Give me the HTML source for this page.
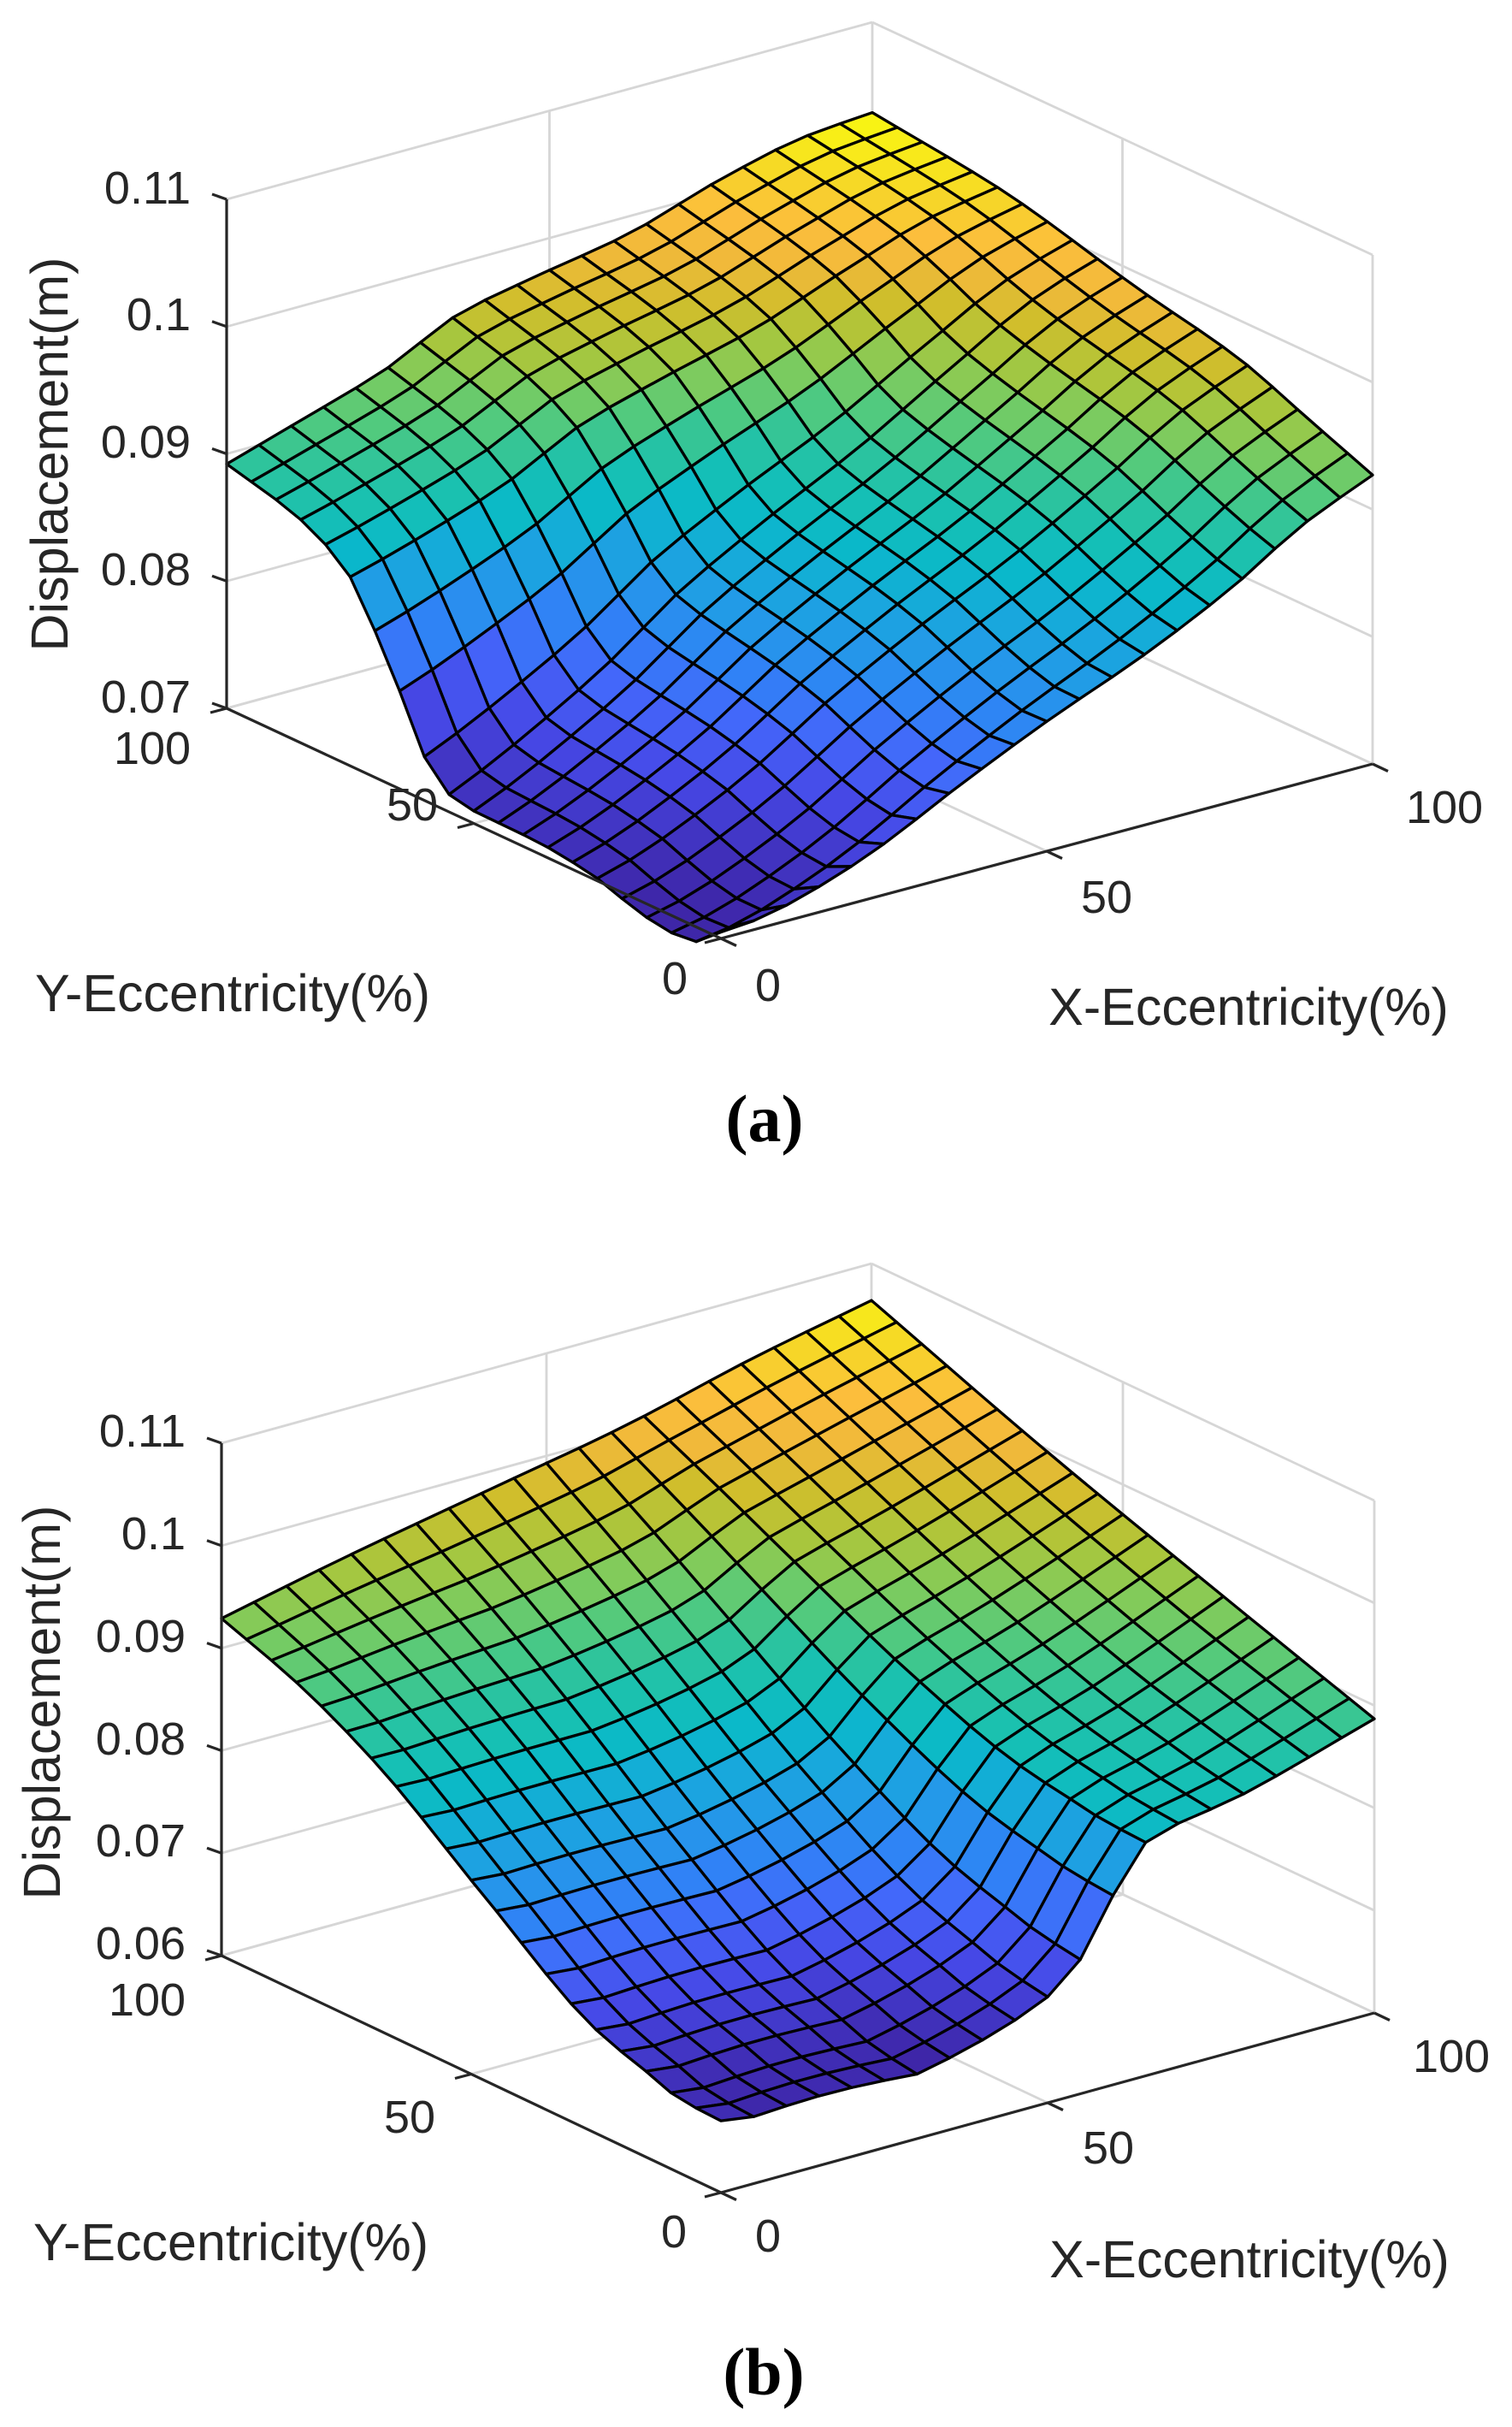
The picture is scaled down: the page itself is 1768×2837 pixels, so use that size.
<!DOCTYPE html>
<html>
<head>
<meta charset="utf-8">
<style>
html,body{margin:0;padding:0;background:#fff;}
svg{display:block;}
.t{font-family:"Liberation Sans",Arial,sans-serif;fill:#262626;}
.tk{font-size:54px;}
.lb{font-size:61px;}
.cap{font-family:"Liberation Serif","Times New Roman",serif;font-size:78px;font-weight:bold;fill:#000;}
</style>
</head>
<body>
<svg id="s" width="1768" height="2837" viewBox="0 0 1768 2837" xmlns="http://www.w3.org/2000/svg">
<rect x="0" y="0" width="1768" height="2837" fill="#fff"/>
<g id="g1"></g>
<g id="g2"></g>

<!-- Chart (a) labels -->
<text class="t tk" x="223" y="238" text-anchor="end">0.11</text>
<text class="t tk" x="223" y="386" text-anchor="end">0.1</text>
<text class="t tk" x="223" y="535" text-anchor="end">0.09</text>
<text class="t tk" x="223" y="684" text-anchor="end">0.08</text>
<text class="t tk" x="223" y="833" text-anchor="end">0.07</text>
<text class="t tk" x="178" y="893" text-anchor="middle">100</text>
<text class="t tk" x="482" y="959" text-anchor="middle">50</text>
<text class="t tk" x="789" y="1162" text-anchor="middle">0</text>
<text class="t tk" x="898" y="1170" text-anchor="middle">0</text>
<text class="t tk" x="1294" y="1067" text-anchor="middle">50</text>
<text class="t tk" x="1689" y="962" text-anchor="middle">100</text>
<text class="t lb" x="272" y="1182" text-anchor="middle">Y-Eccentricity(%)</text>
<text class="t lb" x="1460" y="1198" text-anchor="middle">X-Eccentricity(%)</text>
<text class="t lb" transform="translate(79,531) rotate(-90)" text-anchor="middle">Displacement(m)</text>
<text class="cap" x="894" y="1334" text-anchor="middle">(a)</text>

<!-- Chart (b) labels -->
<text class="t tk" x="217" y="1691" text-anchor="end">0.11</text>
<text class="t tk" x="217" y="1811" text-anchor="end">0.1</text>
<text class="t tk" x="217" y="1931" text-anchor="end">0.09</text>
<text class="t tk" x="217" y="2051" text-anchor="end">0.08</text>
<text class="t tk" x="217" y="2170" text-anchor="end">0.07</text>
<text class="t tk" x="217" y="2290" text-anchor="end">0.06</text>
<text class="t tk" x="172" y="2356" text-anchor="middle">100</text>
<text class="t tk" x="479" y="2493" text-anchor="middle">50</text>
<text class="t tk" x="788" y="2627" text-anchor="middle">0</text>
<text class="t tk" x="898" y="2632" text-anchor="middle">0</text>
<text class="t tk" x="1296" y="2529" text-anchor="middle">50</text>
<text class="t tk" x="1697" y="2422" text-anchor="middle">100</text>
<text class="t lb" x="270" y="2642" text-anchor="middle">Y-Eccentricity(%)</text>
<text class="t lb" x="1461" y="2662" text-anchor="middle">X-Eccentricity(%)</text>
<text class="t lb" transform="translate(70,1990) rotate(-90)" text-anchor="middle">Displacement(m)</text>
<text class="cap" x="893" y="2799" text-anchor="middle">(b)</text>
</svg>

<script>
(function(){
var NS='http://www.w3.org/2000/svg';
function el(parent,tag,attrs){var e=document.createElementNS(NS,tag);for(var k in attrs)e.setAttribute(k,attrs[k]);parent.appendChild(e);return e;}

var PAR=[[0,62,38,168],[0.08,70,72,230],[0.14,68,102,250],[0.2,48,130,246],[0.26,36,152,233],[0.32,24,168,220],[0.38,10,184,202],[0.44,22,192,180],[0.5,46,196,156],[0.56,84,202,124],[0.62,128,203,92],[0.68,170,198,60],[0.74,208,190,44],[0.8,240,185,58],[0.86,252,190,60],[0.92,246,214,40],[1,249,251,14]];
function col(t,gam){
  t=Math.max(0,Math.min(1,t));
  t=Math.pow(t,gam);
  for(var i=0;i<PAR.length-1;i++){
    var a=PAR[i],b=PAR[i+1];
    if(t<=b[0]){
      var f=(t-a[0])/(b[0]-a[0]);
      return 'rgb('+Math.round(a[1]+f*(b[1]-a[1]))+','+Math.round(a[2]+f*(b[2]-a[2]))+','+Math.round(a[3]+f*(b[3]-a[3]))+')';
    }
  }
  return 'rgb(249,251,14)';
}

function pchip(pts){
  var xs=pts.map(function(p){return p[0];}), ys=pts.map(function(p){return p[1];});
  var n=xs.length,h=[],d=[],m=[],i;
  for(i=0;i<n-1;i++){h[i]=xs[i+1]-xs[i];d[i]=(ys[i+1]-ys[i])/h[i];}
  m[0]=d[0];m[n-1]=d[n-2];
  for(i=1;i<n-1;i++){
    if(d[i-1]*d[i]<=0)m[i]=0;
    else{var w1=2*h[i]+h[i-1],w2=h[i]+2*h[i-1];m[i]=(w1+w2)/(w1/d[i-1]+w2/d[i]);}
  }
  return function(x){
    if(x<=xs[0])return ys[0];
    if(x>=xs[n-1])return ys[n-1];
    var k=0;while(k<n-2&&x>xs[k+1])k++;
    var t=(x-xs[k])/h[k],t2=t*t,t3=t2*t;
    return (2*t3-3*t2+1)*ys[k]+(t3-2*t2+t)*h[k]*m[k]+(-2*t3+3*t2)*ys[k+1]+(t3-t2)*h[k]*m[k+1];
  };
}

var charts=[
 {g:'g1',F:[843,1097],R:[1605,893],L:[265,828],B:[1020,621],zmin:0.07,zmax:0.11,kz:14875,
  zt:[0.07,0.08,0.09,0.10,0.11],psi:1.25,gam:1.3,dip:0,
  front:[[0,0.0705],[5,0.0707],[15,0.0720],[25,0.0740],[35,0.0766],[50,0.0802],[65,0.0834],[79,0.0870],[89,0.0902],[100,0.0927]],
  back:[[0,0.0892],[10,0.0908],[25,0.0933],[36,0.0960],[47,0.0972],[62,0.0986],[77,0.1010],[90,0.1025],[100,0.1029]],
  left:[[0,0.0705],[3,0.0692],[8,0.0686],[16,0.0690],[25,0.0702],[38,0.0709],[52,0.0710],[58,0.0722],[63,0.0761],[68,0.0800],[75.6,0.0851],[85.4,0.0876],[100,0.0892]],
  right:[[0,0.0927],[12.5,0.0947],[27,0.0970],[46,0.0987],[75,0.1016],[100,0.1029]]},
 {g:'g2',F:[843,2563],R:[1607,2353],L:[259,2286],B:[1019,2076],zmin:0.06,zmax:0.11,kz:11980,
  zt:[0.06,0.07,0.08,0.09,0.10,0.11],psi:1,gam:1.05,dip:0.0025,
  front:[[0,0.0670],[6,0.0665],[12.5,0.0668],[22,0.0667],[30,0.0663],[35,0.0670],[44,0.0687],[51,0.0707],[55,0.0731],[59.5,0.0779],[62,0.0807],[65.4,0.0829],[79.5,0.0848],[100,0.0887]],
  back:[[0,0.0929],[18,0.0954],[40,0.0981],[62,0.1008],[82,0.1040],[100,0.1064]],
  left:[[0,0.0670],[8,0.0672],[14,0.0682],[24.5,0.0700],[47.5,0.0780],[69,0.0859],[84.4,0.0900],[100,0.0929]],
  right:[[0,0.0887],[27,0.0932],[65.5,0.0998],[100,0.1064]]}
];

charts.forEach(function(c){
  var g=document.getElementById(c.g);
  function P(x,y,z){
    var a=(1-x)*(1-y),b=x*(1-y),cc=(1-x)*y,d=x*y;
    var sx=a*c.F[0]+b*c.R[0]+cc*c.L[0]+d*c.B[0];
    var sy=a*c.F[1]+b*c.R[1]+cc*c.L[1]+d*c.B[1]-(z-c.zmin)*c.kz;
    return [sx,sy];
  }
  function line(p,q,stroke,w){
    el(g,'line',{x1:p[0].toFixed(1),y1:p[1].toFixed(1),x2:q[0].toFixed(1),y2:q[1].toFixed(1),stroke:stroke,'stroke-width':w,'stroke-linecap':'butt'});
  }
  // grid lines (back walls + floor)
  var GC='#d6d6d6',GW=2.8;
  c.zt.forEach(function(z){line(P(0,1,z),P(1,1,z),GC,GW);line(P(1,1,z),P(1,0,z),GC,GW);});
  [0.5,1].forEach(function(x){line(P(x,1,c.zmin),P(x,1,c.zmax),GC,GW);});
  [0,0.5].forEach(function(y){line(P(1,y,c.zmin),P(1,y,c.zmax),GC,GW);});
  [0.5,1].forEach(function(x){line(P(x,0,c.zmin),P(x,1,c.zmin),GC,GW);});
  [0.5,1].forEach(function(y){line(P(0,y,c.zmin),P(1,y,c.zmin),GC,GW);});

  // surface
  var Ff=pchip(c.front),Bf=pchip(c.back),Lf=pchip(c.left),Rf=pchip(c.right);
  var F0=Ff(0),F1=Ff(100),B0=Bf(0),B1=Bf(100);
  function Z(X,Y){
    var u=X/100,v=Y/100;
    var s0=Math.pow(1-u,c.psi), s1=1-s0;
    var z=(1-v)*Ff(X)+v*Bf(X)+s0*Lf(Y)+s1*Rf(Y)-(s0*((1-v)*F0+v*B0)+s1*((1-v)*F1+v*B1));
    return z - c.dip*Math.sin(Math.PI*u)*Math.sin(Math.PI*v);
  }
  var N=20,zz=[],pp=[],i,j,zlo=1e9,zhi=-1e9;
  for(i=0;i<=N;i++){zz[i]=[];pp[i]=[];for(j=0;j<=N;j++){
    var z=Z(i*100/N,j*100/N);zz[i][j]=z;
    if(z<zlo)zlo=z;if(z>zhi)zhi=z;
    pp[i][j]=P(i/N,j/N,z);
  }}
  var faces=[];
  for(i=0;i<N;i++)for(j=0;j<N;j++){
    faces.push({i:i,j:j,d:0.609*(i+0.5)+0.793*(j+0.5)});
  }
  faces.sort(function(a,b){return b.d-a.d;});
  var sg=el(g,'g',{stroke:'#000','stroke-width':'3.3','stroke-linejoin':'round'});
  faces.forEach(function(f){
    var a=pp[f.i][f.j],b=pp[f.i+1][f.j],cq=pp[f.i+1][f.j+1],d=pp[f.i][f.j+1];
    var t=(zz[f.i][f.j]-zlo)/(zhi-zlo);
    var pts=[a,b,cq,d].map(function(p){return p[0].toFixed(1)+','+p[1].toFixed(1);}).join(' ');
    el(sg,'polygon',{points:pts,fill:col(t,c.gam)});
  });

  // axes
  var AC='#262626',AW=3.2;
  line(P(0,1,c.zmin),P(0,1,c.zmax),AC,AW);
  line(P(0,1,c.zmin),P(0,0,c.zmin),AC,AW);
  line(P(0,0,c.zmin),P(1,0,c.zmin),AC,AW);
  c.zt.forEach(function(z){var p=P(0,1,z);line(p,[p[0]-17,p[1]-6],AC,AW);});
  [0,0.5,1].forEach(function(x){var p=P(x,0,c.zmin);line(p,[p[0]+18,p[1]+8.5],AC,AW);});
  [0,0.5,1].forEach(function(y){var p=P(0,y,c.zmin);line(p,[p[0]-19,p[1]+5],AC,AW);});
});
})();
</script>
</body>
</html>
